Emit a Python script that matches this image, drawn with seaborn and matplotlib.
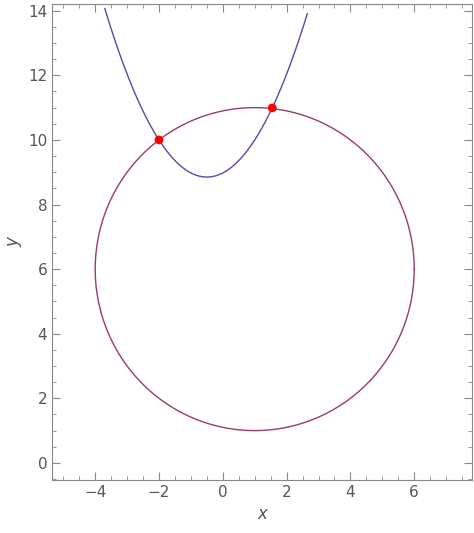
import numpy as np
import pandas as pd
import matplotlib
matplotlib.use("Agg")
import matplotlib.pyplot as plt
import seaborn as sns
from matplotlib.ticker import MultipleLocator

# curve parameters
circle_center = (1.0, 6.0)
circle_radius = 5.0
parab_vertex = (-0.5, 8.85)
parab_a = 0.51
parab_xrange = (-3.7, 2.65)
# intersection points
pts_x = [-2.0, 1.55]
pts_y = [10.0, 10.99]

t = np.linspace(0, 2 * np.pi, 400)
circle = pd.DataFrame({"x": circle_center[0] + circle_radius * np.cos(t),
                       "y": circle_center[1] + circle_radius * np.sin(t)})
xp = np.linspace(*parab_xrange, 300)
parab = pd.DataFrame({"x": xp, "y": parab_a * (xp - parab_vertex[0]) ** 2 + parab_vertex[1]})

sns.set_style("ticks")
fig, ax = plt.subplots(figsize=(4.74, 5.33), dpi=100)
fig.subplots_adjust(left=0.11, right=0.995, top=0.992, bottom=0.10)

ax.plot(parab["x"], parab["y"], color="#4F4FA3", lw=1)
ax.plot(circle["x"], circle["y"], color="#9C3A6C", lw=1)
sns.scatterplot(x=pts_x, y=pts_y, color="red", s=40, edgecolor="none", zorder=5, ax=ax)

ax.set_xlim(-5.35, 7.8)
ax.set_ylim(-0.52, 14.2)
ax.xaxis.set_major_locator(MultipleLocator(2))
ax.xaxis.set_minor_locator(MultipleLocator(0.5))
ax.yaxis.set_major_locator(MultipleLocator(2))
ax.yaxis.set_minor_locator(MultipleLocator(0.5))
ax.tick_params(which="both", direction="in", top=True, right=True, colors="#888888",
               labelcolor="#555555", labelsize=11)
ax.tick_params(which="major", length=6)
ax.tick_params(which="minor", length=3)
for s in ax.spines.values():
    s.set_color("#888888")
ax.set_xlabel("x", style="italic", color="#555555", fontsize=12)
ax.set_ylabel("y", style="italic", color="#555555", fontsize=12)
fig.savefig("out.png")
